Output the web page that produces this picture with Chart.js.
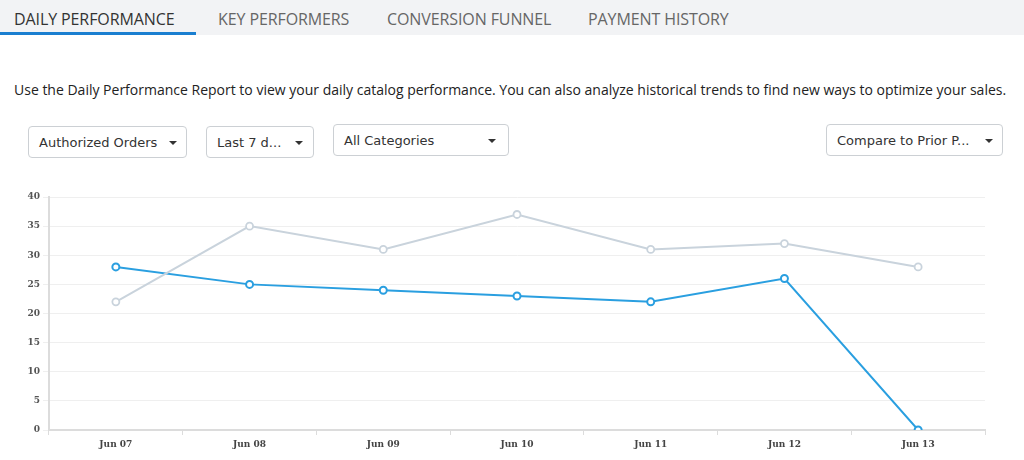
<!DOCTYPE html>
<html>
<head>
<meta charset="utf-8">
<script src="https://cdn.jsdelivr.net/npm/chart.js@4"></script>
<style>
  body { margin: 0; width: 1024px; height: 460px; background: #fff; position: relative; overflow: hidden; font-family: "Open Sans", sans-serif; }
  .tabs { position: absolute; left: 0; top: 0; width: 1024px; height: 35px; background: #f2f3f5; }
  .tab { position: absolute; top: 8px; font-family: "Liberation Sans Narrow", "Open Sans", sans-serif; font-size: 16px; color: #666; letter-spacing: -0.1px; }
  .tab.active { color: #333; }
  .underline { position: absolute; left: 0; top: 32px; width: 196px; height: 3px; background: #1a7fd0; }
  .desc { position: absolute; left: 14px; top: 80px; font-size: 14px; color: #222; white-space: nowrap; }
  .dd { position: absolute; height: 32px; border: 1px solid #ccd0d4; border-radius: 4px; box-sizing: border-box; font-family: "DejaVu Sans", sans-serif; font-size: 13px; color: #333; line-height: 32px; padding-left: 10px; }
  .caret { position: absolute; top: 14px; width: 0; height: 0; border-left: 4px solid transparent; border-right: 4px solid transparent; border-top: 4px solid #333; }
  .wrap { position: absolute; left: 0; top: 187px; width: 1000px; height: 270px; }
</style>
</head>
<body>
<div class="tabs">
  <span class="tab active" style="left:14px">DAILY PERFORMANCE</span>
  <span class="tab" style="left:218px">KEY PERFORMERS</span>
  <span class="tab" style="left:387px">CONVERSION FUNNEL</span>
  <span class="tab" style="left:588px">PAYMENT HISTORY</span>
  <div class="underline"></div>
</div>
<div class="desc">Use the Daily Performance Report to view your daily catalog performance. You can also analyze historical trends to find new ways to optimize your sales.</div>

<div class="dd" style="left:28px;top:126px;width:159px;">Authorized Orders<span class="caret" style="left:140px"></span></div>
<div class="dd" style="left:206px;top:126px;width:108px;">Last 7 d...<span class="caret" style="left:88px"></span></div>
<div class="dd" style="left:333px;top:124px;width:176px;">All Categories<span class="caret" style="left:154px"></span></div>
<div class="dd" style="left:826px;top:124px;width:177px;">Compare to Prior P...<span class="caret" style="left:158px"></span></div>

<div class="wrap"><canvas id="chart"></canvas></div>

<script>
const labels = ["Jun 07", "Jun 08", "Jun 09", "Jun 10", "Jun 11", "Jun 12", "Jun 13"];
const currentOrders = [28, 25, 24, 23, 22, 26, 0];
const priorOrders = [22, 35, 31, 37, 31, 32, 28];
const yTicks = [0, 5, 10, 15, 20, 25, 30, 35, 40];

const tickFont = { family: "DejaVu Serif", size: 9, weight: "bold" };

const ctx = document.getElementById("chart").getContext("2d");
new Chart(ctx, {
  type: "line",
  data: {
    labels: labels,
    datasets: [
      {
        label: "Prior Period",
        data: priorOrders,
        borderColor: "#c9d3dc",
        backgroundColor: "#fff",
        borderWidth: 2,
        pointRadius: 3.5,
        pointBorderWidth: 1.8,
        pointBackgroundColor: "#fff",
        tension: 0
      },
      {
        label: "Authorized Orders",
        data: currentOrders,
        borderColor: "#2a9fe0",
        backgroundColor: "#fff",
        borderWidth: 2,
        pointRadius: 3.5,
        pointBorderWidth: 2,
        pointBackgroundColor: "#fff",
        tension: 0
      }
    ]
  },
  options: {
    responsive: true,
    maintainAspectRatio: false,
    animation: false,
    layout: { padding: { top: 10, right: 15, left: 0, bottom: 0 } },
    plugins: { legend: { display: false }, tooltip: { enabled: false } },
    scales: {
      x: {
        offset: true,
        grid: { offset: true, drawOnChartArea: false, drawTicks: true, tickLength: 5, color: "#dcdcdc" },
        border: { color: "#dcdcdc", width: 2 },
        ticks: { font: tickFont, color: "#444", padding: 4, maxRotation: 0 },
        afterFit: (scale) => { scale.height = 27; }
      },
      y: {
        min: 0,
        max: 40,
        afterBuildTicks: (scale) => { scale.ticks = yTicks.map(v => ({ value: v })); },
        grid: { color: "#efefef", tickLength: 6, lineWidth: 1 },
        border: { color: "#dcdcdc", width: 2 },
        ticks: { font: tickFont, color: "#555", padding: 3 },
        afterFit: (scale) => { scale.width = 49; }
      }
    }
  }
});
</script>
</body>
</html>
